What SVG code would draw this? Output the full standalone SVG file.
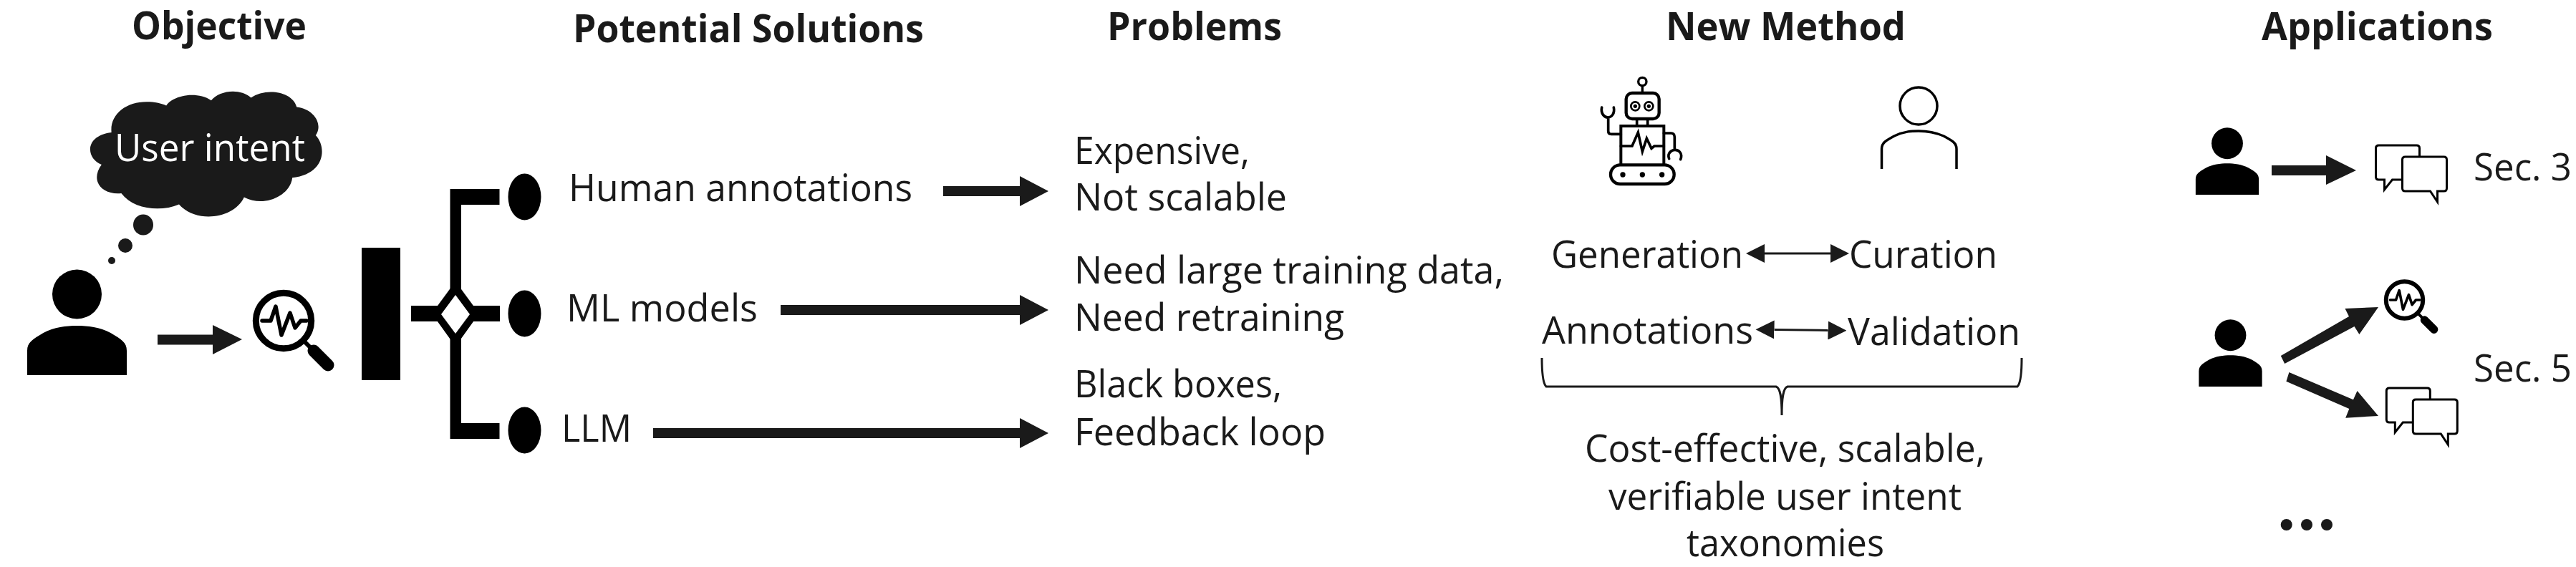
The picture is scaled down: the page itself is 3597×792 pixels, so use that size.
<svg xmlns="http://www.w3.org/2000/svg" xmlns:xlink="http://www.w3.org/1999/xlink" width="3597" height="792" viewBox="0 0 3597 792">
<style>
text{font-family:"Open Sans","Noto Sans","Liberation Sans",sans-serif;font-size:53px;fill:#1a1a1a}
.t{font-weight:700}
.w{fill:#fff}
.k{fill:#000}
.d{fill:#1a1a1a}
.o{fill:none;stroke:#000;stroke-linecap:round;stroke-linejoin:round}
.line{fill:none;stroke:#1a1a1a;stroke-width:3}
.bubble{fill:#fff;stroke:#000;stroke-width:3;stroke-linejoin:miter}
</style>
<defs>
<marker id="head" markerUnits="userSpaceOnUse" markerWidth="26" markerHeight="26" viewBox="0 0 26 26" refX="0" refY="13" orient="auto-start-reverse"><path class="d" d="M0 0L26 13L0 26Z"/></marker>
<g id="person"><circle class="k" cx="0" cy="-113" r="34.5"/><path class="k" d="M-69.500 0V-34C-69.500 -46 -62 -50 -47 -59C-32 -67 -15 -69 0 -69C15 -69 32 -67 47 -59C62 -50 69.500 -46 69.500 -34V0Z"/></g>
<g id="lens"><circle cx="0" cy="0" r="38.700" fill="#fff" stroke="#000" stroke-width="9"/><path class="o" stroke-width="5.500" d="M-30 0H-18L-11 -20L-3 20L9 -11L16 10L24 0H32"/><path class="o" stroke-width="6" d="M28 28L42 42"/><path class="o" stroke-width="17" d="M42 42L62 62"/></g>
<g id="chat"><path class="bubble" d="M3326 203H3379Q3383 203 3383 207V247Q3383 251 3379 251H3345L3334 265V251H3326Q3322 251 3322 247V207Q3322 203 3326 203Z"/><path class="bubble" d="M3363 219H3417Q3421 219 3421 223V263Q3421 267 3417 267H3408V282L3398 267H3363Q3359 267 3359 263V223Q3359 219 3363 219Z"/></g>
</defs>

<g id="titles">
<text class="t" x="184" y="55" textLength="244" lengthAdjust="spacingAndGlyphs">Objective</text>
<text class="t" x="800" y="59" textLength="490" lengthAdjust="spacingAndGlyphs">Potential Solutions</text>
<text class="t" x="1546" y="56" textLength="244" lengthAdjust="spacingAndGlyphs">Problems</text>
<text class="t" x="2326" y="56" textLength="335" lengthAdjust="spacingAndGlyphs">New Method</text>
<text class="t" x="3158" y="56" textLength="323" lengthAdjust="spacingAndGlyphs">Applications</text>
</g>

<g id="objective-cloud">
<g transform="scale(.5102 .3953)"><path class="d" d="M305 468C300 400 350 355 410 360C430 362 445 367 455 373C475 335 540 322 578 355C600 320 655 310 687 345C725 310 800 320 812 378C860 385 885 440 864 478C895 520 890 615 800 628C795 690 725 735 668 697C640 775 535 790 490 722C440 750 365 740 332 683C280 690 245 640 278 582C235 560 230 480 305 468Z"/></g>
<ellipse class="d" cx="200" cy="314" rx="14" ry="14.600"/>
<ellipse class="d" cx="175" cy="343" rx="10" ry="10"/>
<ellipse class="d" cx="156" cy="364" rx="5" ry="5"/>
<text class="w" x="160" y="225" textLength="266" lengthAdjust="spacingAndGlyphs">User intent</text>
</g>
<g id="objective-user"><use href="#person" transform="translate(107.500 524)"/></g>
<g id="objective-lens"><use href="#lens" transform="translate(396 448)"/></g>

<g id="tree">
<rect class="k" x="505" y="346" width="54" height="185"/>
<rect class="k" x="574" y="427" width="124" height="22"/>
<path class="k" d="M628.500 264H697.500V286H644V591H697.500V613H628.500Z"/>
<path class="k" d="M636 393L669 438L636 484L603 438Z"/>
<path d="M636 412L656 439L636 466L616 439Z" fill="#fff"/>
<ellipse class="k" cx="732.500" cy="275" rx="23" ry="32.500"/>
<ellipse class="k" cx="732.500" cy="438" rx="23" ry="32.500"/>
<ellipse class="k" cx="732.500" cy="601" rx="23" ry="32.500"/>
</g>

<g id="solution-human"><text x="794" y="281" textLength="480" lengthAdjust="spacingAndGlyphs">Human annotations</text></g>
<g id="solution-ml"><text x="791" y="449" textLength="267" lengthAdjust="spacingAndGlyphs">ML models</text></g>
<g id="solution-llm"><text x="784" y="617" textLength="98" lengthAdjust="spacingAndGlyphs">LLM</text></g>

<g id="problem-1"><text x="1500" y="229" textLength="245" lengthAdjust="spacingAndGlyphs">Expensive,</text><text x="1500" y="294" textLength="297" lengthAdjust="spacingAndGlyphs">Not scalable</text></g>
<g id="problem-2"><text x="1500" y="396" textLength="600" lengthAdjust="spacingAndGlyphs">Need large training data,</text><text x="1500" y="462" textLength="377" lengthAdjust="spacingAndGlyphs">Need retraining</text></g>
<g id="problem-3"><text x="1500" y="555" textLength="290" lengthAdjust="spacingAndGlyphs">Black boxes,</text><text x="1500" y="622" textLength="351" lengthAdjust="spacingAndGlyphs">Feedback loop</text></g>

<g id="robot" transform="translate(2200 90) scale(.33333)">
<circle class="o" cx="280" cy="72" r="17" stroke-width="10"/>
<path class="o" stroke-width="10" d="M280 90V115"/>
<rect class="o" x="212" y="120" width="138" height="108" rx="25" stroke-width="13"/>
<circle class="o" cx="250" cy="175" r="18" stroke-width="8"/><circle class="k" cx="250" cy="175" r="8"/>
<circle class="o" cx="307" cy="175" r="18" stroke-width="8"/><circle class="k" cx="307" cy="175" r="8"/>
<path class="o" stroke-width="11" d="M257 232V258M302 232V258"/>
<rect class="o" x="190" y="258" width="180" height="165" stroke-width="12" style="stroke-linejoin:miter"/>
<path class="o" stroke-width="11" style="stroke-linejoin:miter" d="M190 342H237L262 285L280 365L298 310L318 352L330 342H370"/>
<path class="o" stroke-width="11" d="M190 292H150Q137 292 137 278V222M110 180C105 205 120 222 135 222C152 222 165 205 160 180"/>
<path class="o" stroke-width="11" d="M370 288H400Q415 288 415 305V358M392 395C382 370 405 358 417 358C432 358 450 372 440 398"/>
<rect class="o" x="147" y="421" width="266" height="80" rx="40" stroke-width="13" style="fill:#fff"/>
<circle class="k" cx="198" cy="462" r="11"/><circle class="k" cx="280" cy="462" r="11"/><circle class="k" cx="362" cy="462" r="11"/>
</g>
<g id="human-outline">
<ellipse cx="2679" cy="148" rx="26" ry="26" class="o" stroke-width="3.500"/>
<path class="o" stroke-width="3.500" style="stroke-linecap:butt" d="M2627.500 236V208C2627.500 200 2632 197 2645 190C2660 183 2670 183 2679 183C2690 183 2700 184 2714 190C2727 197 2732 200 2732 208V236"/>
</g>

<g id="method-generation"><text x="2166" y="374" textLength="268" lengthAdjust="spacingAndGlyphs">Generation</text></g>
<g id="method-curation"><text x="2582" y="374" textLength="207" lengthAdjust="spacingAndGlyphs">Curation</text></g>
<g id="method-annotations"><text x="2153" y="480" textLength="295" lengthAdjust="spacingAndGlyphs">Annotations</text></g>
<g id="method-validation"><text x="2580" y="482" textLength="241" lengthAdjust="spacingAndGlyphs">Validation</text></g>
<g id="method-result">
<text x="2213" y="645" textLength="559" lengthAdjust="spacingAndGlyphs">Cost-effective, scalable,</text>
<text x="2246" y="712" textLength="493" lengthAdjust="spacingAndGlyphs">verifiable user intent</text>
<text x="2355" y="777" textLength="276" lengthAdjust="spacingAndGlyphs">taxonomies</text>
</g>

<g id="app-1"><use href="#person" transform="translate(3110 272) scale(.635)"/><use href="#chat" transform="translate(-4.500 0)"/><text x="3454" y="252" textLength="137" lengthAdjust="spacingAndGlyphs">Sec. 3</text></g>
<g id="app-2"><use href="#person" transform="translate(3114.500 540) scale(.635)"/><use href="#lens" transform="translate(3357.500 419) scale(.665)"/><use href="#chat" transform="translate(10.300 339)"/><text x="3454" y="533" textLength="137" lengthAdjust="spacingAndGlyphs">Sec. 5</text></g>
<g id="app-more"><circle class="d" cx="3192.700" cy="733" r="8"/><circle class="d" cx="3221" cy="733" r="8"/><circle class="d" cx="3249" cy="733" r="8"/></g>

<g id="connectors">
<path class="d" d="M220 467.500H297V454L338 474L297 495V481.500H220Z"/>
<path class="d" d="M1317 260H1424V246L1464 267L1424 288V274H1317Z"/>
<path class="d" d="M1090 426H1424V412L1464 433L1424 454V440H1090Z"/>
<path class="d" d="M912 598H1424V584L1464 605L1424 626V612H912Z"/>
<line class="line" x1="2464" y1="354" x2="2556" y2="354" marker-start="url(#head)" marker-end="url(#head)"/>
<line class="line" x1="2477.500" y1="460.500" x2="2552.500" y2="461.500" marker-start="url(#head)" marker-end="url(#head)"/>
<path class="line" d="M2153 500C2153 520 2154 535 2159 540H2480C2486 542 2488 555 2488 580C2488 555 2490 542 2496 540H2817C2822 535 2823 520 2823 500"/>
<path class="d" d="M3172 231H3248V217L3290 238L3248 258V245H3172Z"/>
<path class="d" d="M3184.800 497L3280 442L3274.500 431L3321 429L3294.400 467L3287.500 456L3190.200 508Z"/>
<path class="d" d="M3196.400 520L3286 558.300L3291.500 546L3321 581L3275.200 583.700L3280.300 571L3192.400 532.700Z"/>
</g>
</svg>
